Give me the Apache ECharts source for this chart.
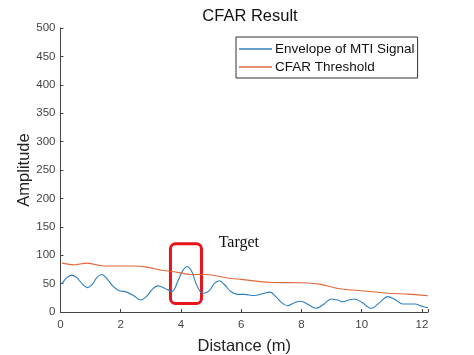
<!DOCTYPE html>
<html><head><meta charset="utf-8">
<script src="https://cdn.jsdelivr.net/npm/echarts@6/dist/echarts.min.js"></script>
<style>html,body{margin:0;padding:0;background:#fff}#c{width:474px;height:355px}</style>
</head><body><div id="c"></div>
<script>
var envDist = [0.05,0.2,0.37,0.55,0.75,0.9,1.05,1.2,1.37,1.55,1.75,1.93,2.2,2.45,2.65,2.85,3.05,3.23,3.45,3.7,3.9,4.05,4.2,4.35,4.5,4.65,4.77,4.95,5.1,5.28,5.45,5.65,5.87,6.1,6.43,6.7,6.96,7.15,7.35,7.54,7.75,7.98,8.2,8.48,8.75,8.98,9.2,9.37,9.57,9.76,10.0,10.32,10.6,10.87,11.1,11.37,11.76,12.0,12.2];
var envVals = [50,60,65,60,48,43,48,60,66,58,45,38,35,28,21,27,40,46,42,36,55,72,80,72,50,35,33,38,50,55,48,36,31,31,29,32,35,27,16,11,16,19,14,6.5,14,23,21,18,21,23,17,6.5,17,27,22,14,14,10,7.5];
var thrDist = [0.05,0.43,0.87,1.42,2.42,2.87,3.32,3.76,4.32,4.87,5.54,5.98,6.98,7.98,8.6,9.2,9.98,10.87,11.54,12.2];
var thrVals = [86,83,86,81,81,79,74,71,66,66,60,57.5,52,51.5,49,41.5,37.5,33,31.5,28.7];
var targetBox = [3.65, 4.68, 15, 120];
var targetLabel = 'Target';
var seriesNames = ['Envelope of MTI Signal', 'CFAR Threshold'];

function zip(a, b) { return a.map(function (v, i) { return [v, b[i]]; }); }
var FONT = '"Liberation Sans", Arial, sans-serif';
var chart = echarts.init(document.getElementById('c'));
chart.setOption({
  animation: false,
  backgroundColor: '#fff',
  title: { text: 'CFAR Result', left: 245, textAlign: 'center', top: 3,
    textStyle: { fontFamily: FONT, fontSize: 16.5, fontWeight: 'normal', color: '#111' } },
  grid: { left: 60.5, right: 46, top: 28, bottom: 43, containLabel: false, outerBoundsMode: 'none' },
  legend: {
    orient: 'vertical', left: 236, top: 37, data: seriesNames,
    icon: 'rect', itemWidth: 33, itemHeight: 1.5, itemGap: 4,
    padding: [5, 3, 4, 3], borderColor: '#333', borderWidth: 1, backgroundColor: '#fff',
    textStyle: { fontFamily: FONT, fontSize: 13.5, color: '#111', padding: [0, 0, 0, -2] }
  },
  xAxis: {
    type: 'value', min: 0, max: 12.2, interval: 2,
    name: 'Distance (m)', nameLocation: 'middle', nameGap: 26, nameMoveOverlap: false,
    nameTextStyle: { fontFamily: FONT, fontSize: 16.5, color: '#222' },
    axisLine: { lineStyle: { color: '#444', width: 1 } },
    axisTick: { inside: true, length: 3, lineStyle: { color: '#444' } },
    axisLabel: { fontFamily: FONT, fontSize: 11.5, color: '#444', margin: 7,
      formatter: function (v) { return Math.abs(v % 2) < 1e-6 ? String(v) : ''; } },
    splitLine: { show: false }
  },
  yAxis: {
    type: 'value', min: 0, max: 500, interval: 50,
    name: 'Amplitude', nameLocation: 'middle', nameGap: 28, nameMoveOverlap: false,
    nameTextStyle: { fontFamily: FONT, fontSize: 16.5, color: '#222' },
    axisLine: { show: true, lineStyle: { color: '#444', width: 1 } },
    axisTick: { show: true, inside: true, length: 3, lineStyle: { color: '#444' } },
    axisLabel: { fontFamily: FONT, fontSize: 11.5, color: '#444', margin: 5 },
    splitLine: { show: false }
  },
  series: [
    { name: seriesNames[0], type: 'line', data: zip(envDist, envVals), symbol: 'none',
      smooth: 0.35, lineStyle: { color: '#2b7fc0', width: 1.1 }, itemStyle: { color: '#2b7fc0' } },
    { name: seriesNames[1], type: 'line', data: zip(thrDist, thrVals), symbol: 'none',
      smooth: 0.2, lineStyle: { color: '#e0683a', width: 1.1 }, itemStyle: { color: '#e0683a' } },
    { type: 'custom', silent: true, data: [targetBox],
      renderItem: function (params, api) {
        var p0 = api.coord([api.value(0), api.value(3)]);
        var p1 = api.coord([api.value(1), api.value(2)]);
        var t = api.coord([5.25, 121]);
        return { type: 'group', children: [
          { type: 'rect', shape: { x: p0[0], y: p0[1], width: p1[0] - p0[0], height: p1[1] - p0[1], r: 5 },
            style: { fill: 'none', stroke: '#e8141c', lineWidth: 3 } },
          { type: 'text', x: t[0], y: t[1],
            style: { text: targetLabel, fill: '#111', font: '16px "Liberation Serif", "Times New Roman", serif',
              verticalAlign: 'middle', align: 'left' } }
        ] };
      } }
  ]
});
</script></body></html>
